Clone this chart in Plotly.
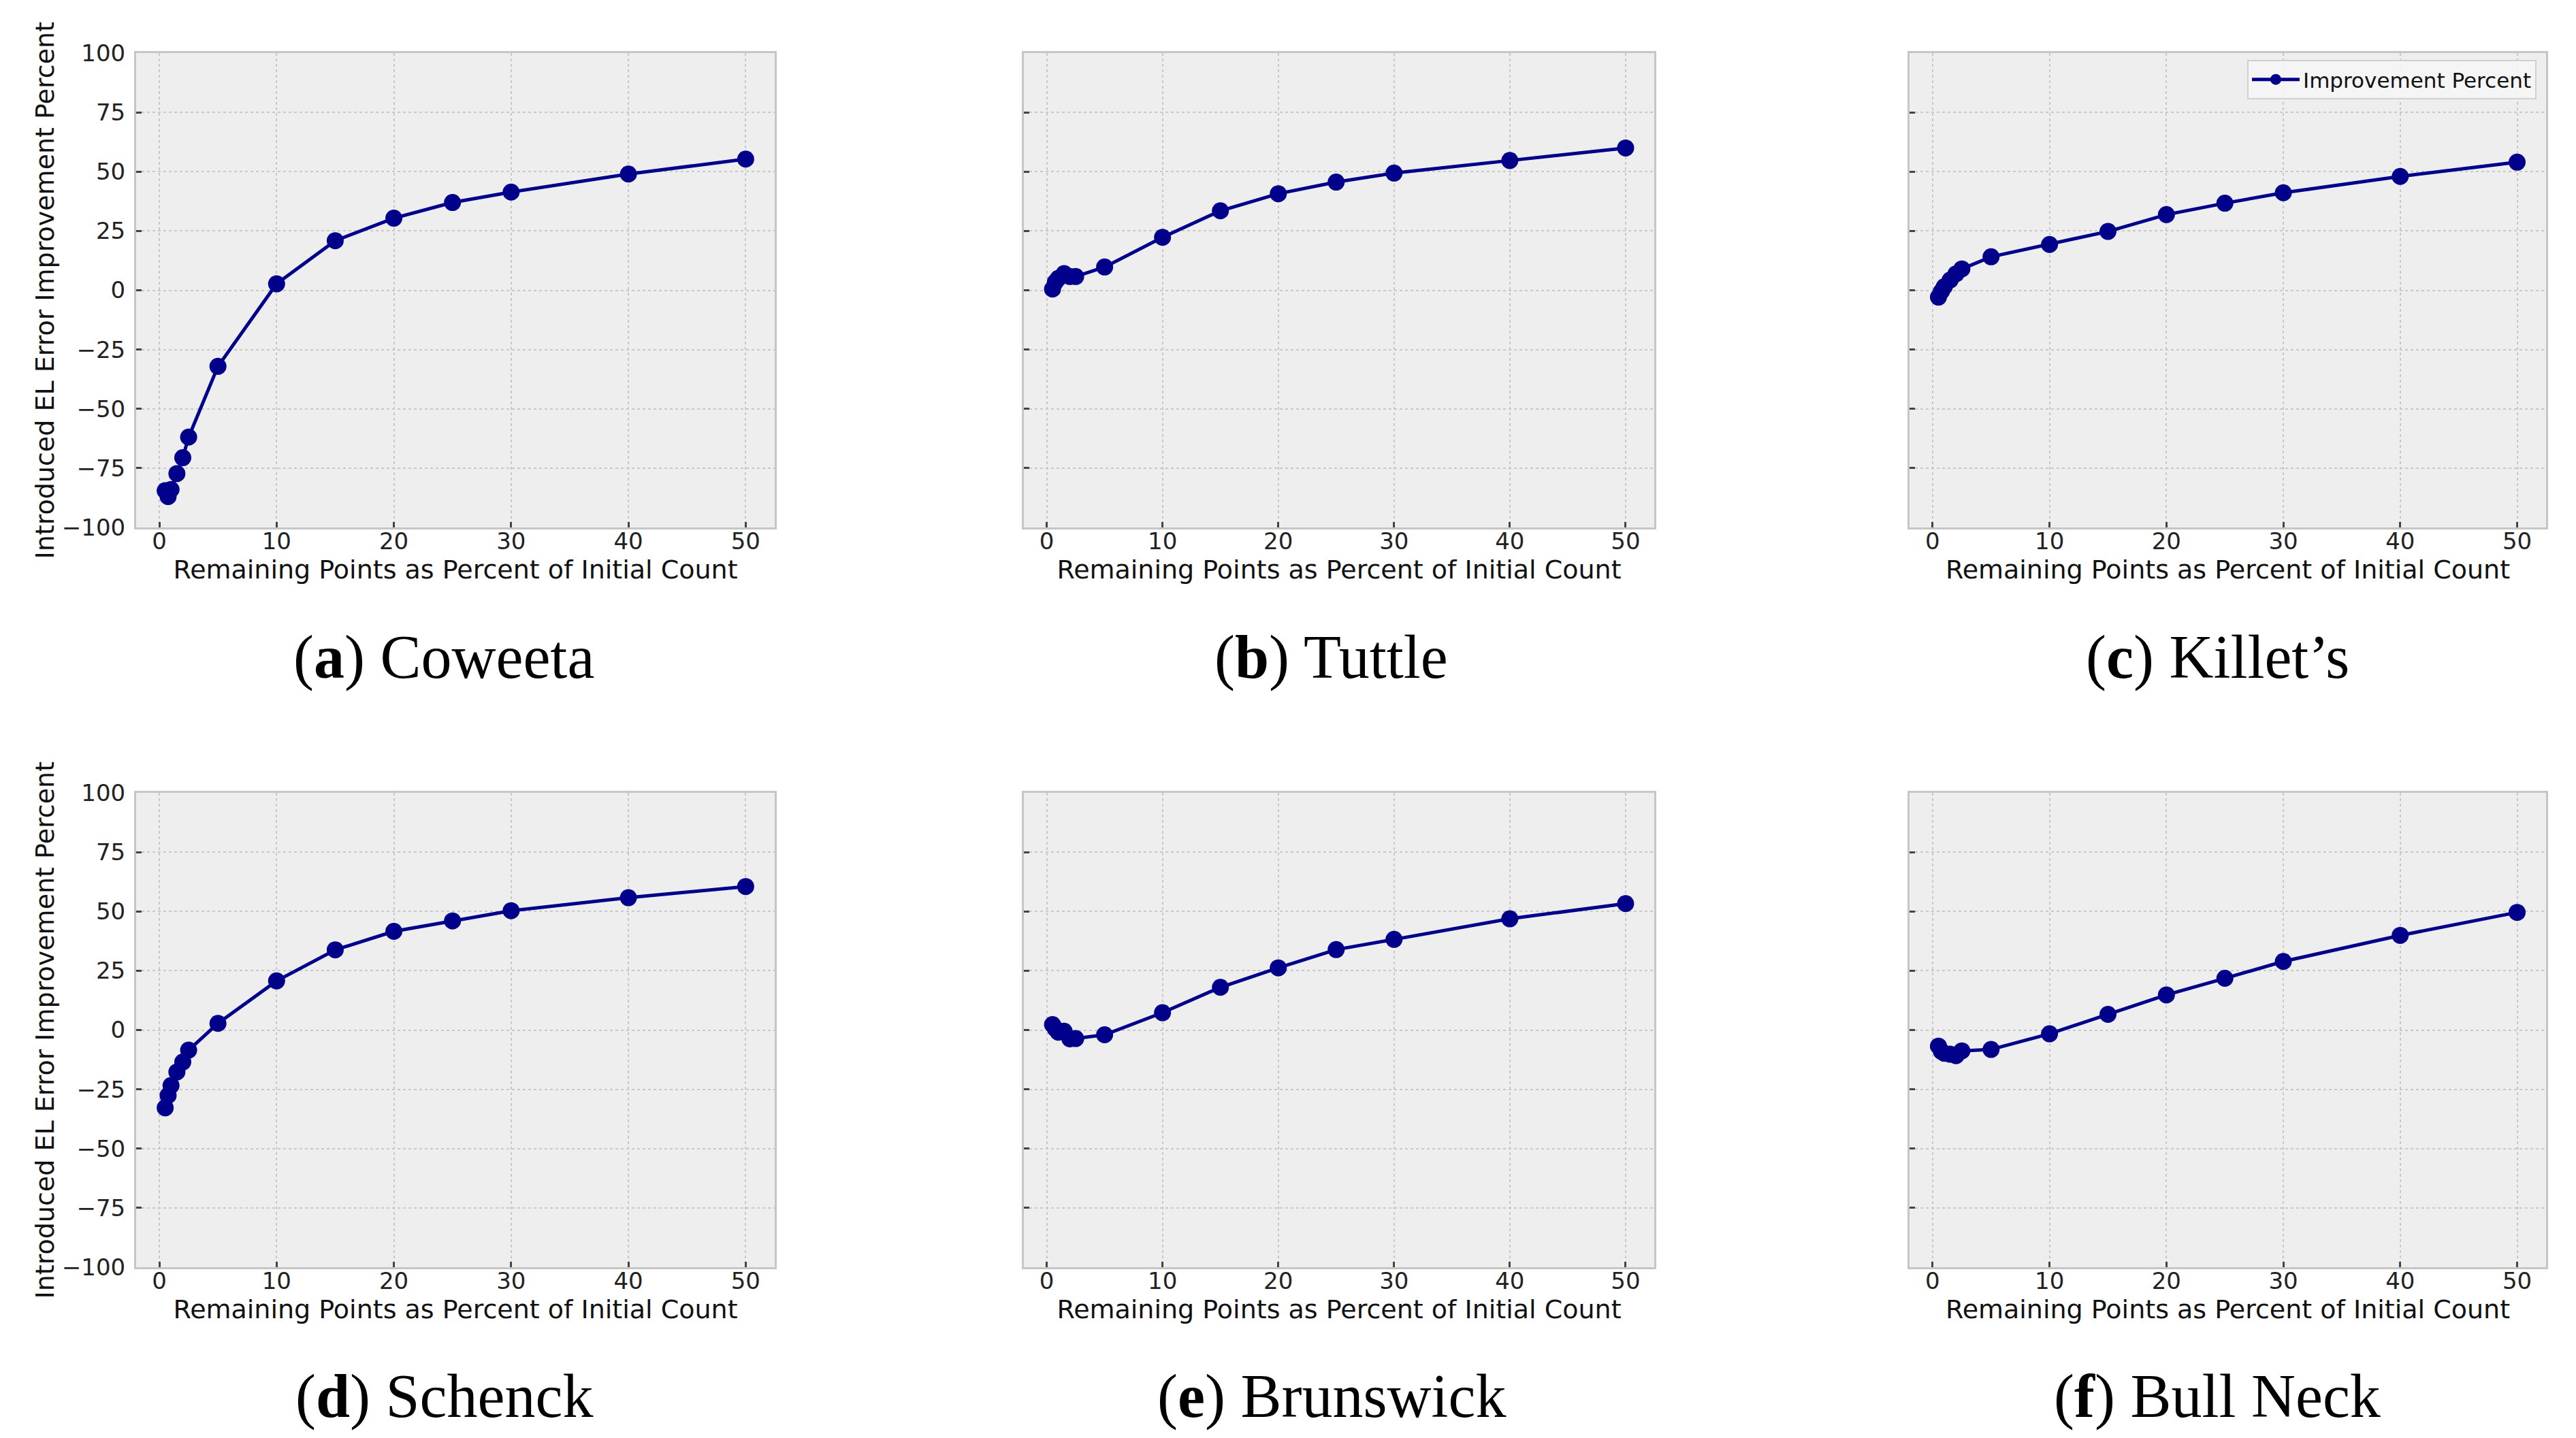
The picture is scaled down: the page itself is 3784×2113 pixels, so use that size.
import plotly.graph_objects as go

# remaining points (% of initial count) -- same for every site
pct = [0.5, 0.75, 1, 1.5, 2, 2.5, 5, 10, 15, 20, 25, 30, 40, 50]

# introduced EL error improvement percent
coweeta = [-84.5, -87.0, -84.0, -77.3, -70.6, -61.9, -32.1, 2.7, 20.9, 30.4, 37.0, 41.4, 49.0, 55.3]
tuttle = [0.5, 3.5, 5.0, 7.0, 5.8, 5.8, 9.8, 22.3, 33.5, 40.7, 45.6, 49.4, 54.7, 60.0]
killets = [-2.9, -0.5, 1.5, 4.3, 6.9, 9.0, 14.1, 19.3, 24.8, 31.9, 36.7, 41.1, 48.0, 54.0]
schenck = [-32.8, -27.6, -23.4, -17.7, -13.5, -8.5, 2.8, 20.7, 33.8, 41.6, 46.0, 50.3, 55.8, 60.5]
brunswick = [2.3, 0.5, -0.9, -0.5, -3.7, -3.6, -2.0, 7.3, 18.0, 26.2, 33.9, 38.2, 46.9, 53.3]
bull_neck = [-6.8, -9.0, -9.8, -10.2, -10.8, -8.8, -8.2, -1.6, 6.6, 14.8, 21.8, 28.9, 39.9, 49.6]

sites = [coweeta, tuttle, killets, schenck, brunswick, bull_neck]
letters = ["a", "b", "c", "d", "e", "f"]
names = ["Coweeta", "Tuttle", "Killet\u2019s", "Schenck", "Brunswick", "Bull Neck"]

y_ticks = [-100, -75, -50, -25, 0, 25, 50, 75, 100]
x_ticks = [0, 10, 20, 30, 40, 50]

W, H = 3784, 2113
# plot boxes in pixels (left, right) per column, (top, bottom) per row
cols_px = [(192, 1130), (1496, 2422), (2797, 3732)]
rows_px = [(70, 767), (1157, 1854)]
caption_x = [644, 1948, 3249]
caption_y = [958, 2044]

NAVY = "#00008B"
AX_FONT = dict(family="DejaVu Sans, sans-serif", size=34, color="#222222")
TITLE_FONT = dict(family="DejaVu Sans, sans-serif", size=38, color="#111111")

fig = go.Figure()

for i, vals in enumerate(sites):
    r, c = divmod(i, 3)
    n = i + 1
    xa = "x" if n == 1 else f"x{n}"
    ya = "y" if n == 1 else f"y{n}"
    fig.add_trace(go.Scatter(
        x=pct, y=vals, xaxis=xa, yaxis=ya,
        mode="lines+markers",
        name="Improvement Percent",
        showlegend=(i == 2),
        line=dict(color=NAVY, width=5),
        marker=dict(color=NAVY, size=25),
    ))

    x0, x1 = cols_px[c]
    y0, y1 = rows_px[r]
    first_col = c == 0

    fig.layout[f"xaxis{'' if n == 1 else n}"] = dict(
        domain=[x0 / W, x1 / W], anchor=ya,
        range=[-1.975, 52.475], tickvals=x_ticks,
        showgrid=True, gridcolor="#c8c8c8", griddash="4px,4px", gridwidth=2,
        zeroline=False, showline=True, mirror=True, linecolor="#c6c6c6", linewidth=3,
        ticks="inside", ticklen=8, tickwidth=3, tickcolor="#444444",
        tickfont=AX_FONT, automargin=False, ticklabelstandoff=-12,
        title=dict(text="Remaining Points as Percent of Initial Count",
                   font=TITLE_FONT, standoff=0),
    )
    fig.layout[f"yaxis{'' if n == 1 else n}"] = dict(
        domain=[1 - y1 / H, 1 - y0 / H], anchor=xa,
        range=[-100, 100], tickvals=y_ticks,
        showticklabels=first_col,
        showgrid=True, gridcolor="#c8c8c8", griddash="4px,4px", gridwidth=2,
        zeroline=False, showline=True, mirror=True, linecolor="#c6c6c6", linewidth=3,
        ticks="inside", ticklen=8, tickwidth=3, tickcolor="#444444",
        tickfont=AX_FONT, automargin=False, ticklabelstandoff=6,
    )

    # sub-figure caption
    fig.add_annotation(
        text=f"(<b>{letters[i]}</b>) {names[i]}",
        x=caption_x[c] / W, y=1 - caption_y[r] / H,
        xref="paper", yref="paper", xanchor="center", yanchor="middle",
        showarrow=False,
        font=dict(family="Liberation Serif, serif", size=90, color="#000000"),
    )

# y-axis titles only on the left column
for r in range(2):
    y0, y1 = rows_px[r]
    fig.add_annotation(
        text="Introduced EL Error Improvement Percent",
        x=57 / W, y=1 - (y0 + y1) / 2 / H,
        xref="paper", yref="paper", xanchor="center", yanchor="middle",
        textangle=-90, showarrow=False,
        font=TITLE_FONT,
    )

fig.update_layout(
    width=W, height=H,
    margin=dict(l=0, r=0, t=0, b=0),
    paper_bgcolor="white",
    plot_bgcolor="#EEEEEE",
    showlegend=True,
    legend=dict(
        x=3718 / W, y=1 - 80 / H, xanchor="right", yanchor="top",
        bgcolor="rgba(245,245,245,0.9)", bordercolor="#d0d0d0", borderwidth=2,
        itemwidth=70,
        font=dict(family="DejaVu Sans, sans-serif", size=31, color="#111111"),
    ),
)

fig.write_html("out.html")
